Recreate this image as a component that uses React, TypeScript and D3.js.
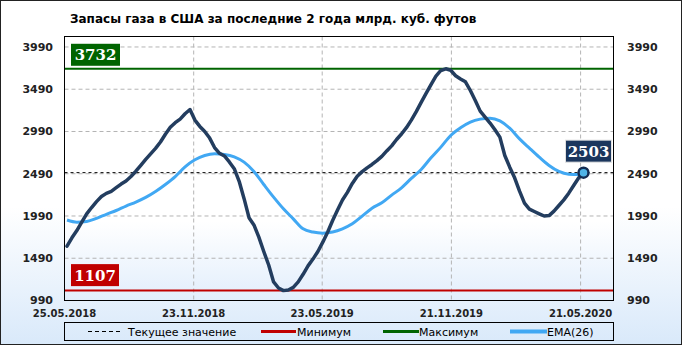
import React from 'react';
import * as d3 from 'd3';

const title = 'Запасы газа в США за последние 2 года млрд. куб. футов';

// weekly storage, bcf (index = week number from first point)
const storage = [
  1633, 1732, 1818, 1917, 2015, 2090, 2160, 2220, 2258, 2282,
  2325, 2368, 2405, 2458, 2520, 2590, 2660, 2725, 2790, 2866,
  2958, 3039, 3094, 3137, 3200, 3250, 3125, 3050, 2990, 2912,
  2800, 2732, 2700, 2630, 2550, 2400, 2195, 1970, 1884, 1740,
  1570, 1410, 1210, 1138, 1107, 1115, 1145, 1210, 1300, 1400,
  1480, 1570, 1680, 1800, 1937, 2060, 2180, 2270, 2375, 2460,
  2515, 2560, 2600, 2645, 2695, 2760, 2820, 2895, 2960, 3035,
  3125, 3225, 3335, 3440, 3545, 3645, 3712, 3732, 3715, 3650,
  3612, 3578, 3475, 3357, 3231, 3160, 3090, 3010, 2923, 2706,
  2568, 2442, 2284, 2142, 2071, 2043, 2016, 1990, 1995, 2047,
  2114, 2181, 2260, 2351, 2440, 2503,
];

const emaWeeks = [
  0, 2, 4, 6, 8, 10, 12, 14, 16, 18, 20, 22, 24, 26, 28, 30, 32, 34, 36, 38,
  40, 42, 44, 46, 48, 50, 52, 54, 56, 58, 60, 62, 64, 66, 68, 70, 72, 74, 76, 78,
  80, 82, 84, 86, 88, 90, 92, 94, 96, 98, 100, 102, 104, 105,
];
const emaValues = [
  1942, 1917, 1925, 1962, 2010, 2055, 2108, 2155, 2210, 2280, 2363, 2457, 2572, 2655, 2706, 2726, 2718, 2690, 2627, 2517,
  2363, 2213, 2075, 1956, 1838, 1800, 1787, 1800, 1838, 1897, 1988, 2083, 2146, 2237, 2323, 2434, 2540, 2678, 2805, 2943,
  3033, 3100, 3136, 3148, 3116, 3029, 2903, 2793, 2686, 2588, 2517, 2485, 2481, 2490,
];

const yTicks = [990, 1490, 1990, 2490, 2990, 3490, 3990];
const xTickLabels = ['25.05.2018', '23.11.2018', '23.05.2019', '21.11.2019', '21.05.2020'];

const legendLabels = ['Текущее значение', 'Минимум', 'Максимум', 'EMA(26)'];

const W = 682;
const H = 345;
const L = 64.5, R = 613.5, T = 36.5, B = 300.5;
const FONT = '"DejaVu Sans", Verdana, sans-serif';

const parseD = d3.timeParse('%d.%m.%Y');

export default function App() {
  const y = d3.scaleLinear().domain([990, 4114]).range([B, T]);
  const x = d3.scaleLinear().domain([0, 105]).range([67, 583.5]);
  const tickDates = xTickLabels.map((s) => parseD(s) as Date);
  const xt = d3.scaleTime().domain([tickDates[0], tickDates[4]]).range([L, 580.6]);

  const current = storage[storage.length - 1];
  const minV = d3.min(storage) as number;
  const maxV = d3.max(storage) as number;

  const line = d3.line<number>().x((_, i) => x(i)).y((d) => y(d)).curve(d3.curveLinear);
  const emaLine = d3
    .line<number>()
    .x((_, i) => x(emaWeeks[i]))
    .y((d) => y(d))
    .curve(d3.curveMonotoneX);

  const lastX = x(storage.length - 1);
  const lastY = y(current);

  const navy = '#233d5f';
  const ema = '#41a8f3';
  const red = '#c00000';
  const green = '#006400';

  const legendY = 331.5;

  return (
    <svg width={W} height={H} style={{ position: 'absolute', left: 0, top: 0 }} fontFamily={FONT}>
      <defs>
        <linearGradient id="bg" x1="0" y1="0" x2="0" y2="1">
          <stop offset="0" stopColor="#ffffff" />
          <stop offset="0.6" stopColor="#ffffff" />
          <stop offset="1" stopColor="#d9e9fa" />
        </linearGradient>
        <linearGradient id="pbg" x1="0" y1="0" x2="0" y2="1">
          <stop offset="0" stopColor="#ffffff" />
          <stop offset="0.7" stopColor="#ffffff" />
          <stop offset="1" stopColor="#e2eefc" />
        </linearGradient>
        <clipPath id="clip">
          <rect x={L} y={T} width={R - L} height={B - T} />
        </clipPath>
      </defs>
      <rect x={0.5} y={0.5} width={W - 1} height={H - 1} fill="url(#bg)" stroke="#222" strokeWidth={1} />
      <text x={70} y={23} fontSize={12} fontWeight="bold" fill="#000">{title}</text>

      <rect x={L} y={T} width={R - L} height={B - T} fill="url(#pbg)" />

      {yTicks.slice(1).map((t) => (
        <line key={'gy' + t} x1={L} x2={R} y1={y(t)} y2={y(t)} stroke="#b4b4b4" strokeDasharray="4,3" />
      ))}
      {tickDates.slice(1).map((d, i) => (
        <line key={'gx' + i} x1={xt(d)} x2={xt(d)} y1={T} y2={B} stroke="#b4b4b4" strokeDasharray="4,3" />
      ))}

      <g clipPath="url(#clip)">
        <line x1={L} x2={R} y1={y(current)} y2={y(current)} stroke="#000" strokeDasharray="3,3" />
        <line x1={L} x2={R} y1={y(minV)} y2={y(minV)} stroke={red} strokeWidth={2} />
        <line x1={L} x2={R} y1={y(maxV)} y2={y(maxV)} stroke={green} strokeWidth={2} />
        <path d={emaLine(emaValues) || ''} fill="none" stroke={ema} strokeWidth={3} strokeLinejoin="round" />
        <path d={line(storage) || ''} fill="none" stroke={navy} strokeWidth={3.5} strokeLinejoin="round" strokeLinecap="round" />
        <circle cx={lastX} cy={lastY} r={5} fill="#4fb3e6" stroke="#132c52" strokeWidth={2.5} />
      </g>

      <rect x={L} y={T} width={R - L} height={B - T} fill="none" stroke="#000" />

      {/* value boxes */}
      <g>
        <rect x={71} y={y(maxV) - 25} width={49} height={22} fill={green} />
        <text x={95.5} y={y(maxV) - 8.5} textAnchor="middle" fontSize={15} fontWeight="bold" fill="#fff" fontFamily='"DejaVu Serif", serif'>{maxV}</text>
        <rect x={71} y={y(minV) - 26.5} width={48} height={22} fill={red} />
        <text x={95} y={y(minV) - 10} textAnchor="middle" fontSize={15} fontWeight="bold" fill="#fff" fontFamily='"DejaVu Serif", serif'>{minV}</text>
        <rect x={565.5} y={lastY - 32.5} width={46} height={22} fill="#1b365d" stroke="#e0e0e0" />
        <text x={588.5} y={lastY - 16} textAnchor="middle" fontSize={15} fontWeight="bold" fill="#fff" fontFamily='"DejaVu Serif", serif'>{current}</text>
      </g>

      {/* y axis labels */}
      {yTicks.map((t) => (
        <g key={'yl' + t} fontSize={11} fontWeight="bold" fill="#222">
          <text x={53} y={y(t)} dy="0.35em" textAnchor="end">{t}</text>
          <text x={627} y={y(t)} dy="0.35em" textAnchor="start">{t}</text>
        </g>
      ))}

      {/* x axis labels */}
      {tickDates.map((d, i) => (
        <text key={'xl' + i} x={Math.min(xt(d), R - 32)} y={317} textAnchor="middle" fontSize={10} fontWeight="bold" fill="#222">
          {xTickLabels[i]}
        </text>
      ))}

      {/* legend */}
      <rect x={L} y={322.5} width={R - L} height={18} fill="none" stroke="#000" />
      <g fontSize={11} fill="#000">
        <line x1={88} x2={122} y1={legendY} y2={legendY} stroke="#000" strokeDasharray="4,3" />
        <text x={128} y={legendY + 4}>{legendLabels[0]}</text>
        <line x1={261} x2={296} y1={legendY} y2={legendY} stroke={red} strokeWidth={3} />
        <text x={297} y={legendY + 4}>{legendLabels[1]}</text>
        <line x1={383} x2={419} y1={legendY} y2={legendY} stroke={green} strokeWidth={3} />
        <text x={419} y={legendY + 4}>{legendLabels[2]}</text>
        <line x1={510} x2={547} y1={legendY} y2={legendY} stroke={ema} strokeWidth={4} />
        <text x={547} y={legendY + 4}>{legendLabels[3]}</text>
      </g>
    </svg>
  );
}
